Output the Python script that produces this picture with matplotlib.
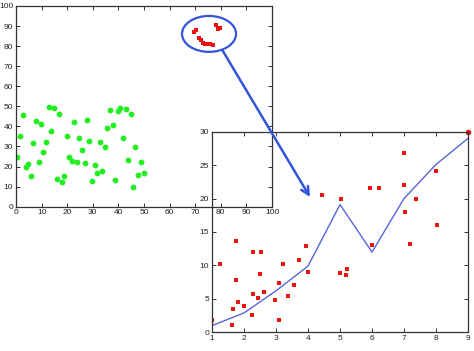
import matplotlib
matplotlib.use("Agg")
import matplotlib.pyplot as plt
from matplotlib.patches import Ellipse, FancyArrowPatch

plt.rcParams["font.family"] = ["Liberation Sans", "DejaVu Sans"]

# ---- left panel: green cloud + red cluster ----
green_x = [0.5, 1.7, 2.7, 3.8, 4.7, 5.9, 6.8, 7.8, 9.0, 9.9, 10.7, 11.7, 12.9,
           13.7, 14.8, 16.7, 15.9, 17.8, 18.75, 19.8, 20.8, 21.7, 22.7, 23.8,
           24.7, 25.7, 26.8, 27.9, 28.6, 29.8, 30.9, 31.8, 32.8, 33.7, 34.8,
           35.7, 36.7, 37.8, 38.7, 39.7, 40.6, 41.8, 42.8, 43.75, 44.8, 45.8,
           46.6, 47.8, 48.7, 49.9]
green_y = [24.7, 35.4, 45.9, 20.0, 21.4, 15.1, 31.6, 42.9, 22.2, 41.4, 27.3,
           32.0, 49.7, 37.6, 49.0, 46.2, 13.9, 12.3, 15.1, 35.4, 24.8, 22.7,
           42.2, 22.2, 34.4, 28.5, 21.7, 43.4, 32.9, 12.6, 20.7, 16.7, 32.3,
           17.9, 29.8, 39.1, 48.2, 40.6, 13.2, 47.5, 49.2, 34.3, 48.5, 23.3,
           46.0, 9.9, 29.5, 15.9, 22.5, 16.7]
red_small_x = [69.5, 70.3, 71.6, 72.1, 72.9, 73.7, 74.5, 75.8, 77.1, 78.1, 78.8, 79.7]
red_small_y = [86.8, 87.8, 84.1, 83.3, 81.4, 81.1, 81.1, 80.9, 80.8, 90.4, 88.3, 88.8]
left_ticks = list(range(0, 101, 10))

# ---- right panel: red points + blue line ----
pts_x = [1.01, 1.25, 1.75, 1.76, 1.82, 1.66, 1.63, 2.0, 2.26, 2.28, 2.53, 2.29,
         2.43, 2.5, 2.63, 2.98, 3.08, 3.22, 3.1, 3.38, 3.55, 3.71, 3.93, 3.99,
         4.43, 5.0, 5.2, 5.22, 5.03, 5.93, 6.0, 6.23, 7.0, 7.0, 7.04, 7.19,
         7.38, 8.0, 8.04]
pts_y = [1.9, 10.2, 13.6, 7.8, 4.5, 3.5, 1.1, 4.0, 2.6, 12.05, 11.95, 5.8,
         5.1, 8.7, 6.0, 4.9, 7.3, 10.2, 1.9, 5.5, 7.0, 10.8, 12.9, 9.0,
         20.6, 8.8, 8.5, 9.5, 20.0, 21.6, 13.05, 21.6, 26.8, 22.0, 18.0, 13.15,
         19.9, 24.1, 16.1]
line_x = [1, 2, 3, 4, 5, 6, 7, 8, 9]
line_y = [1.0, 2.9, 6.2, 9.9, 19.1, 12.0, 20.0, 25.1, 29.0]
corner_x = [9]
corner_y = [30]

RED = "#ee1111"
GREEN = "#22ee22"
BLUE_LINE = "#5566dd"
BLUE_ARROW = "#3355dd"
SPINE = "#333333"

W, H = 474, 351
fig = plt.figure(figsize=(W / 100, H / 100), dpi=100)


def style(ax):
    for s in ax.spines.values():
        s.set_color(SPINE)
        s.set_linewidth(0.9)
    ax.tick_params(direction="in", top=True, right=True, length=3,
                   width=0.7, labelsize=6, pad=2, colors=SPINE,
                   labelcolor="#222222")
    ax.set_facecolor("none")


# right (inset) axes, drawn first
ax2 = fig.add_axes([212 / W, 1 - 332.3 / H, 256 / W, 200.6 / H])
ax2.plot(line_x, line_y, color=BLUE_LINE, lw=1.0)
ax2.plot(pts_x, pts_y, "s", color=RED, ms=3.3, mew=0)
ax2.plot(corner_x, corner_y, "o", color=RED, ms=4, mew=0, clip_on=False)
ax2.set_xlim(1, 9)
ax2.set_ylim(0, 30)
ax2.set_xticks(line_x)
ax2.set_yticks(range(0, 31, 5))
style(ax2)

# left axes on top, transparent
ax1 = fig.add_axes([16 / W, 1 - 206.7 / H, 256 / W, 200.7 / H])
ax1.plot(green_x, green_y, "o", color=GREEN, ms=4.2, mew=0)
ax1.plot(red_small_x, red_small_y, "s", color=RED, ms=3.0, mew=0)
ax1.add_patch(Ellipse((75.4, 86.1), 21.1, 17.9, fill=False,
                      edgecolor=BLUE_ARROW, lw=1.6))
ax1.set_xlim(0, 100)
ax1.set_ylim(0, 100)
ax1.set_xticks(left_ticks)
ax1.set_yticks(left_ticks)
style(ax1)

# arrow from the ellipse down to the inset
arr = FancyArrowPatch((222.7 / W, 1 - 50.7 / H), (310 / W, 1 - 197 / H),
                      transform=fig.transFigure, arrowstyle="->",
                      mutation_scale=14, color=BLUE_ARROW, lw=1.8,
                      shrinkA=0, shrinkB=0)
fig.patches.append(arr)

fig.savefig("out.png", dpi=100, facecolor="white")
